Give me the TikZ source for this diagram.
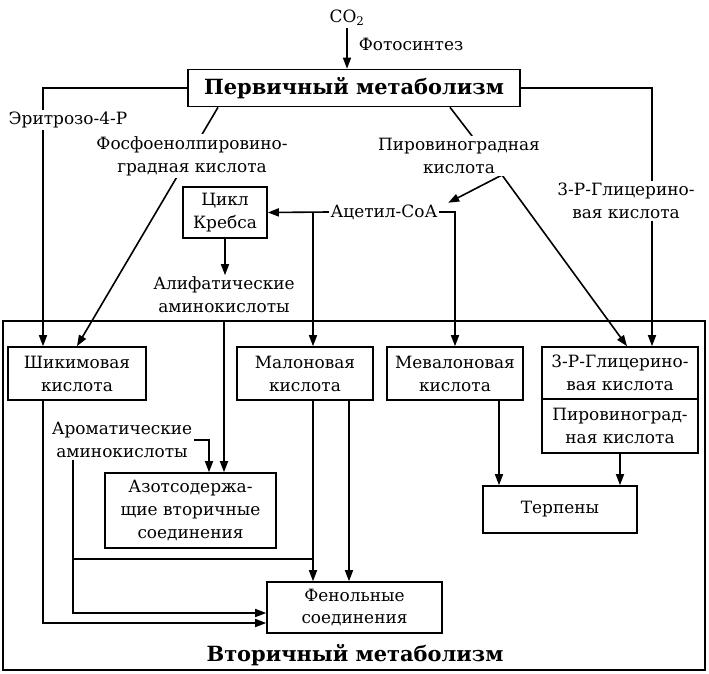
\documentclass[tikz,border=0pt]{standalone}
\usepackage{fontspec}
\setmainfont{DejaVu Serif}
\usetikzlibrary{arrows.meta}

\tikzset{
  box/.style={draw,align=center,inner sep=0pt},
  lab/.style={align=center,inner sep=1bp},
  onlink/.style={fill=white,align=center,inner sep=2bp},
  title/.style={font=\fontsize{21}{23}\selectfont\bfseries}
}

\begin{document}
\begin{tikzpicture}[x=1bp,y=-1bp,line width=1.6bp,
    >={Triangle[length=11bp,width=8bp]},
    font=\fontsize{17}{23}\selectfont]
  \useasboundingbox (0,0) rectangle (709,674);

  % blocks
  \begin{scope}[every node/.style={box}]
    \node[minimum width=702bp,minimum height=349bp] (sec) at (354,495.5) {};
    \node[title,minimum width=332bp,minimum height=37bp] (prim) at (354,88) {Первичный метаболизм};
    \node[minimum width=84bp,minimum height=51bp]  (krebs)  at (225,212.5) {Цикл\\Кребса};
    \node[minimum width=138bp,minimum height=53bp] (shik)   at (77,373.5)  {Шикимовая\\кислота};
    \node[minimum width=136bp,minimum height=53bp] (malon)  at (305,373.5) {Малоновая\\кислота};
    \node[minimum width=136bp,minimum height=53bp] (meval)  at (455,373.5) {Мевалоновая\\кислота};
    \node[minimum width=156bp,minimum height=52bp] (glyc)   at (620,373)   {3-Р-Глицерино-\\вая кислота};
    \node[minimum width=156bp,minimum height=54bp] (pyrbox) at (620,426)   {Пировиноград-\\ная кислота};
    \node[minimum width=171bp,minimum height=75bp] (azot)   at (190.5,510.5) {Азотсодержа-\\щие вторичные\\соединения};
    \node[minimum width=154bp,minimum height=47bp] (terp)   at (560,509.5) {Терпены};
    \node[minimum width=175bp,minimum height=51bp] (phen)   at (354.5,607.5) {Фенольные\\соединения};
  \end{scope}

  % free texts
  \begin{scope}[every node/.style={lab}]
    \node (co2)   at (347,18)  {CO\textsubscript{2}};
    \node[anchor=west] (photo) at (357,44) {Фотосинтез};
    \node (acet)  at (384,212) {Ацетил-СоА};
    \node (aliph) at (224,295) {Алифатические\\аминокислоты};
    \node (arom)  at (122,440) {Ароматические\\аминокислоты};
    \node[title] (secname) at (355,655) {Вторичный метаболизм};
  \end{scope}

  \coordinate (fork) at (502,175);

  % links
  \draw[->] (co2) -- (co2 |- prim.north);
  \draw[->] (prim.west) -| ([xshift=-34bp]shik.north);
  \draw[->] ([xshift=-136bp]prim.south) -- (shik.north);
  \draw     ([xshift=96bp]prim.south) -- (fork);
  \draw[->] (fork) -- ([xshift=9bp]acet.north east);
  \draw[->] (fork) -- ([xshift=7bp]glyc.north);
  \draw[->] (prim.east) -| ([xshift=32bp]glyc.north);
  \draw[->] (acet.west) -- (krebs.east);
  \draw[->] ([xshift=8bp]malon.north |- acet.west) -- ([xshift=8bp]malon.north);
  \draw[->] (acet.east) -| (meval.north);
  \draw[->] (arom.east) -| ([xshift=18.5bp]azot.north);
  \draw[->] ([xshift=-49bp]arom.south) |- ([yshift=-5.5bp]phen.west);
  \draw[->] ([xshift=-34bp]shik.south) |- ([yshift=-15.5bp]phen.west);
  \draw     ([xshift=-49bp,yshift=-10bp]arom.south |- azot.south)
         -- ([xshift=8bp,yshift=-10bp]malon.south |- azot.south);

  \begin{scope}[every edge/.style={draw,->}]
    \path (krebs.south) edge (krebs.south |- aliph.north);
    \path (aliph.south |- sec.north) edge (aliph.south |- azot.north);
    \path ([xshift=8bp]malon.south)  edge ([xshift=8bp]malon.south |- phen.north);
    \path ([xshift=44bp]malon.south) edge ([xshift=44bp]malon.south |- phen.north);
    \path ([xshift=44bp]meval.south) edge ([xshift=44bp]meval.south |- terp.north);
    \path (pyrbox.south) edge (pyrbox.south |- terp.north);
  \end{scope}

  % texts lying on links
  \begin{scope}[every node/.style={onlink}]
    \node (ery)     at (68,120)  {Эритрозо-4-Р};
    \node (pep)     at (192,156) {Фосфоенолпировино-\\градная кислота};
    \node (pyr)     at (459,156) {Пировиноградная\\кислота};
    \node (glyclab) at (626,201) {3-Р-Глицерино-\\вая кислота};
  \end{scope}

\end{tikzpicture}
\end{document}
